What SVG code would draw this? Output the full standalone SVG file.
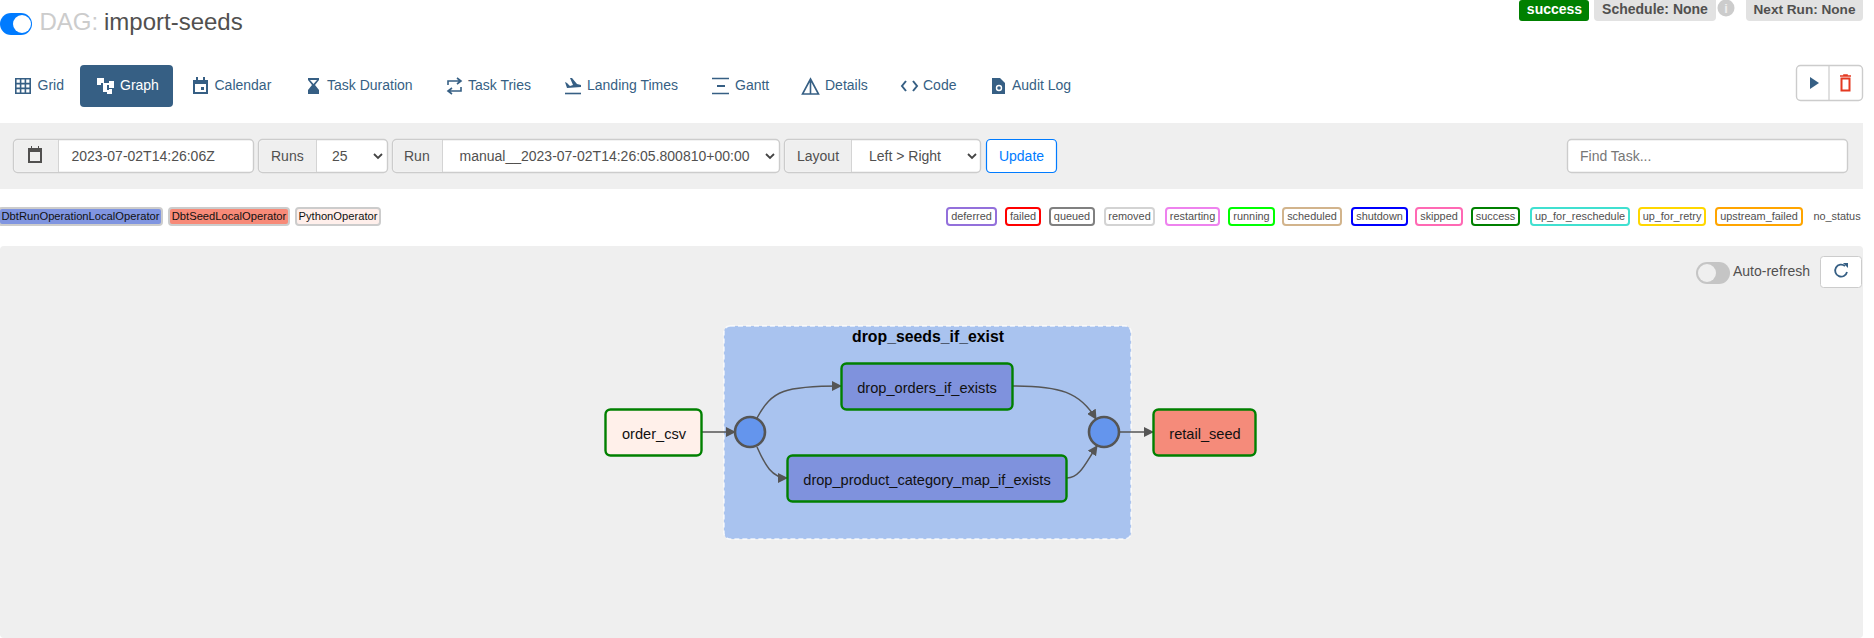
<svg xmlns="http://www.w3.org/2000/svg" width="1874" height="638" viewBox="0 0 1874 638">
<style>
text{font-family:"Liberation Sans",Arial,sans-serif;font-size:14px;fill:#51504f}
.nav{fill:#365f84}
.ic{fill:#365f84}
.icl{fill:none;stroke:#365f84;stroke-width:1.6}
.badge{fill:#e2e2e2}
.bt{font-weight:bold;font-size:14px;text-anchor:middle}
.box{fill:#fff;stroke:#ccc;stroke-width:1.4}
.add{fill:#efefef}
.sep{stroke:#d4d4d4;stroke-width:1}
.op{stroke:#ccc;stroke-width:2}
.optext{font-size:11.2px;fill:#111;text-anchor:middle}
.st{fill:#fff;stroke-width:2}
.sttext{font-size:10.9px;text-anchor:middle}
.node{stroke:#008000;stroke-width:2.4}
.nt{font-size:14.6px;fill:#111;text-anchor:middle}
.dot{fill:#6495ed;stroke:#555;stroke-width:2.6}
.edge{fill:none;stroke:#555;stroke-width:1.5;marker-end:url(#arr)}
.chev{fill:none;stroke:#444;stroke-width:1.8}
</style>
<defs>
<marker id="arr" markerUnits="userSpaceOnUse" markerWidth="10" markerHeight="10" refX="9" refY="5" orient="auto"><path d="M0,0L10,5L0,10z" fill="#555"/></marker>
</defs>
<rect width="1874" height="638" fill="#fff"/>
<g id="header">
<rect x="0" y="13" width="32" height="22" rx="11" fill="#007bff"/>
<circle cx="22" cy="24" r="9" fill="#fff"/>
<text x="39.500" y="30" style="font-size:24px;fill:#ccc">DAG:</text>
<text x="104" y="30" style="font-size:24px">import-seeds</text>
<rect x="1519" y="0" width="70" height="21" rx="3" fill="#008000"/>
<text x="1554.500" y="14" class="bt" style="fill:#fff">success</text>
<rect x="1594" y="-4" width="122" height="25" rx="4" class="badge"/>
<text x="1655" y="14" class="bt">Schedule: None</text>
<circle cx="1726" cy="8" r="8.500" fill="#ccc"/>
<text x="1726" y="13" class="bt" style="fill:#eee;font-size:13px">i</text>
<rect x="1746" y="-4" width="117" height="25" rx="4" class="badge"/>
<text x="1804.500" y="14" class="bt" style="font-size:13.6px">Next Run: None</text>
</g>
<g id="nav">
<rect x="80" y="65" width="93" height="42" rx="4" fill="#365f84"/>
<g class="icl"><path d="M15.800,78.800h14.400v14.400h-14.400zM20.600,78.800v14.400M25.400,78.800v14.400M15.800,83.600h14.400M15.800,88.400h14.400"/></g>
<text x="37.500" y="90" class="nav">Grid</text>
<path d="M97,78h7v5h5v-2h5v7h-5v-3h-2v5h2v-1h3v5h-5v-2h-4v-9h-2v2h-4z" fill="#fff"/>
<text x="120" y="90" style="fill:#fff">Graph</text>
<path d="M193,80h3v-3h2v3h5v-3h2v3h3v14h-15zM195,84v8h11v-8zM201,87h3v3h-3z" class="ic" fill-rule="evenodd"/>
<text x="214.500" y="90" class="nav">Calendar</text>
<path d="M308,78h11v2l-4,5 4,5v4h-11v-4l4,-5 -4,-5z" class="ic"/><path d="M310,80h7l-3.500,4z" fill="#fff"/>
<text x="327" y="90" class="nav">Task Duration</text>
<path d="M448,85v-4h12M457,78l4,3 -4,3M461,87v4h-12M452,88l-4,3 4,3" class="icl"/>
<text x="468" y="90" class="nav">Task Tries</text>
<path d="M565,93.500h16" class="icl"/><path d="M565,82l2,1 3,3 3,-1 -3,-7h2l5,6 4,1v2l-14,1z" class="ic"/>
<text x="587" y="90" class="nav">Landing Times</text>
<path d="M712,78.500h17M712,93.500h17" class="icl"/><path d="M717,85h8v2h-8z" class="ic"/>
<text x="735" y="90" class="nav">Gantt</text>
<path d="M810.500,79l8,15h-16zM810.500,79v15" class="icl"/>
<text x="825" y="90" class="nav">Details</text>
<path d="M906,81l-4,5 4,5M913,81l4,5 -4,5" class="icl" style="stroke-width:2"/>
<text x="923" y="90" class="nav">Code</text>
<path d="M992,78h8l5,5v11h-13z" class="ic"/><circle cx="999" cy="88" r="2.500" fill="none" stroke="#fff" stroke-width="1.400"/>
<text x="1012" y="90" class="nav">Audit Log</text>
<rect x="1796.500" y="65.500" width="66" height="35" rx="4" class="box"/>
<path d="M1829,65.500v35" stroke="#ccc" stroke-width="1.200"/>
<path d="M1810,77l9,6 -9,6z" fill="#365f84"/>
<path d="M1840,76h11M1844,76v-1h3v1" fill="none" stroke="#e43921" stroke-width="1.600"/><rect x="1841.500" y="78.500" width="8" height="12" fill="none" stroke="#e43921" stroke-width="2"/>
</g>
<g id="toolbar">
<rect x="0" y="123" width="1863" height="66" fill="#efefef"/>
<rect x="13.500" y="139.500" width="240" height="33" rx="4" class="box"/>
<path d="M14.500,143.500a3,3 0 0 1 3,-3h40.500v31h-40.500a3,3 0 0 1 -3,-3z" class="add"/>
<path d="M58.500,140v32" class="sep"/>
<path d="M28,148h3v-2h1v2h6v-2h1v2h3v15h-14zM30,152v9h10v-9z" fill="#51504f" fill-rule="evenodd"/>
<text x="71.500" y="161">2023-07-02T14:26:06Z</text>
<rect x="258.500" y="139.500" width="129" height="33" rx="4" class="box"/>
<path d="M259.500,143.500a3,3 0 0 1 3,-3h54v31h-54a3,3 0 0 1 -3,-3z" class="add"/>
<path d="M316.500,140v32" class="sep"/>
<text x="271" y="161">Runs</text>
<text x="332" y="161">25</text>
<path d="M374,154l4,4 4,-4" class="chev"/>
<rect x="392.500" y="139.500" width="387" height="33" rx="4" class="box"/>
<path d="M393.500,143.500a3,3 0 0 1 3,-3h46v31h-46a3,3 0 0 1 -3,-3z" class="add"/>
<path d="M442.500,140v32" class="sep"/>
<text x="404" y="161">Run</text>
<text x="459.500" y="161">manual__2023-07-02T14:26:05.800810+00:00</text>
<path d="M766,154l4,4 4,-4" class="chev"/>
<rect x="784.500" y="139.500" width="196" height="33" rx="4" class="box"/>
<path d="M785.500,143.500a3,3 0 0 1 3,-3h62.500v31h-62.500a3,3 0 0 1 -3,-3z" class="add"/>
<path d="M851.500,140v32" class="sep"/>
<text x="797" y="161">Layout</text>
<text x="869" y="161">Left &gt; Right</text>
<path d="M968,154l4,4 4,-4" class="chev"/>
<rect x="986.500" y="139.500" width="70" height="33" rx="4" fill="#fff" stroke="#007bff" stroke-width="1.200"/>
<text x="1021.500" y="161" style="fill:#007bff;text-anchor:middle">Update</text>
<rect x="1567.500" y="139.500" width="280" height="33" rx="4" class="box"/>
<text x="1580" y="161" style="fill:#777">Find Task...</text>
</g>
<g id="legend-operators">
<rect x="-1" y="208" width="163" height="17" rx="3" class="op" fill="#8095e0"/>
<text x="80.500" y="220" class="optext">DbtRunOperationLocalOperator</text>
<rect x="169" y="208" width="120" height="17" rx="3" class="op" fill="#f78a78"/>
<text x="229" y="220" class="optext">DbtSeedLocalOperator</text>
<rect x="296" y="208" width="84" height="17" rx="3" class="op" fill="#ffefeb"/>
<text x="338" y="220" class="optext">PythonOperator</text>
</g>
<g id="legend-states">
<rect x="947" y="208" width="49" height="17" rx="3" class="st" stroke="#9370db"/><text x="971.500" y="220" class="sttext">deferred</text>
<rect x="1006" y="208" width="34" height="17" rx="3" class="st" stroke="#f00"/><text x="1023" y="220" class="sttext">failed</text>
<rect x="1050" y="208" width="44" height="17" rx="3" class="st" stroke="#808080"/><text x="1072" y="220" class="sttext">queued</text>
<rect x="1105" y="208" width="49" height="17" rx="3" class="st" stroke="#d3d3d3"/><text x="1129.500" y="220" class="sttext">removed</text>
<rect x="1166" y="208" width="53" height="17" rx="3" class="st" stroke="#ee82ee"/><text x="1192.500" y="220" class="sttext">restarting</text>
<rect x="1229" y="208" width="45" height="17" rx="3" class="st" stroke="#0f0"/><text x="1251.500" y="220" class="sttext">running</text>
<rect x="1283" y="208" width="58" height="17" rx="3" class="st" stroke="#d2b48c"/><text x="1312" y="220" class="sttext">scheduled</text>
<rect x="1352" y="208" width="55" height="17" rx="3" class="st" stroke="#00f"/><text x="1379.500" y="220" class="sttext">shutdown</text>
<rect x="1416" y="208" width="46" height="17" rx="3" class="st" stroke="#ff69b4"/><text x="1439" y="220" class="sttext">skipped</text>
<rect x="1472" y="208" width="47" height="17" rx="3" class="st" stroke="#008000"/><text x="1495.500" y="220" class="sttext">success</text>
<rect x="1531" y="208" width="98" height="17" rx="3" class="st" stroke="#40e0d0"/><text x="1580" y="220" class="sttext">up_for_reschedule</text>
<rect x="1639" y="208" width="66" height="17" rx="3" class="st" stroke="#ffd700"/><text x="1672" y="220" class="sttext">up_for_retry</text>
<rect x="1716" y="208" width="86" height="17" rx="3" class="st" stroke="#ffa500"/><text x="1759" y="220" class="sttext">upstream_failed</text>
<text x="1837" y="220" class="sttext">no_status</text>
</g>
<g id="panel">
<rect x="0" y="246" width="1863" height="392" rx="4" fill="#efefef"/>
<rect x="1696" y="262" width="34" height="22" rx="11" fill="#c5c5c5"/>
<circle cx="1707" cy="273" r="9" fill="#efefef"/>
<text x="1733" y="276">Auto-refresh</text>
<rect x="1820.500" y="256.500" width="41" height="31" rx="3" fill="#fff" stroke="#ccc"/>
<path d="M1845,266a6,6 0 1 0 2,6" fill="none" stroke="#365f84" stroke-width="1.800"/><path d="M1843,263l5,0 0,5z" fill="#365f84"/>
</g>
<g id="cluster-drop_seeds_if_exist">
<rect x="724" y="326" width="407" height="213" rx="6" fill="#a9c3ef" stroke="#fff" stroke-opacity=".8" stroke-width="1.500" stroke-dasharray="5,3"/>
<text x="928" y="342" style="font-size:15.8px;font-weight:bold;fill:#000;text-anchor:middle">drop_seeds_if_exist</text>
</g>
<g id="connectors">
<path class="edge" d="M702,432H735"/>
<path class="edge" d="M757,418C772,390 785,386 841,386"/>
<path class="edge" d="M757,447C765,465 772,478 787,478"/>
<path class="edge" d="M1013,386C1060,386 1080,392 1096,419"/>
<path class="edge" d="M1067,478C1080,478 1086,462 1097,446"/>
<path class="edge" d="M1119,432H1153"/>
</g>
<g id="order_csv"><rect x="605.500" y="409.500" width="96" height="46" rx="5" class="node" fill="#fff0ea"/><text x="654" y="439" class="nt">order_csv</text></g>
<g id="join_in"><circle cx="750" cy="432" r="15" class="dot"/></g>
<g id="drop_orders_if_exists"><rect x="841.500" y="363.500" width="171" height="46" rx="5" class="node" fill="#7f92dd"/><text x="927" y="393" class="nt">drop_orders_if_exists</text></g>
<g id="drop_product_category_map_if_exists"><rect x="787.500" y="455.500" width="279" height="46" rx="5" class="node" fill="#7f92dd"/><text x="927" y="485" class="nt">drop_product_category_map_if_exists</text></g>
<g id="join_out"><circle cx="1104" cy="432" r="15" class="dot"/></g>
<g id="retail_seed"><rect x="1153.500" y="409.500" width="102" height="46" rx="5" class="node" fill="#f58b7a"/><text x="1205" y="439" class="nt">retail_seed</text></g>
</svg>
